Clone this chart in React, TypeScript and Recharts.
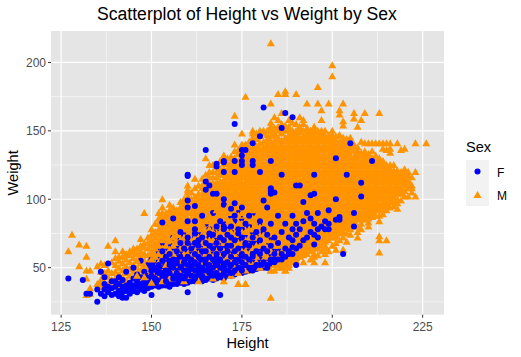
import React from "react";
import { ScatterChart, Scatter, XAxis, YAxis, CartesianGrid } from "recharts";

const xTicks = [125, 150, 175, 200, 225];
const yTicks = [50, 100, 150, 200];
const xMinor = [137.5, 162.5, 187.5, 212.5];
const yMinor = [25, 75, 125, 175];
const sexLabels = ["F", "M"];

// each row: height, then the weights read at that height
const maleEdge = [
[127,62],[128,74],[130,67,51],[132,66,58,48,42,30],[133,48,35,31],[135,51,38],[136,53,38],[137,52,46],[138,66],[140,70,62],[147,71],[148,90],
[153,100,90],[152,90],[154,90],[155,96,90],[160,107],[162,115],[164,110],[165,130],[166,125,120],[168,120,111],[170,132],[172,131],[173,140,161],[174,38],
[175,148,140],[176,175,38],[178,150,145],[180,150],[181,150],[183,214,170,156,48,28],[184,160],[185,177,158],[186,163],[187,179,177,154,48],[188,158],[189,156,58],
[190,177,57],[191,160],[192,155,54],[193,170,152],[195,150,60,54],[196,182,170,59],[197,165,158],[198,150,66,64,54],[199,170],[200,198,190,150],[201,72,63],
[202,165,162,147],[203,170,157,154,142,72,63],[204,144,69],[205,145,74],[206,163,159,140],[207,153,138,72],[208,158,142,78],[209,163,141],[210,141,83],[211,141,135,90],
[212,141],[213,163,141,130,92,73,70,61],[214,141,137],[215,141,136,125,92,70],[216,141,137,134],[217,121,102,95],[218,141,121,93],[219,136,115,105],[220,137,118],
[221,120,114,102],[223,141,120,102],[226,141],
];
const maleFringe = [
[176,140,136,134],[177,142,138],[178,148],[179,144,148],[180,146],[181,148],[182,150,147],[183,150,153],[184,152,148],[185,153],[186,155,150,152],[187,152],[188,153,150],[189,148],[190,155,150],[191,153,152],[192,150,158],[193,151],[194,150,148],[195,148,153],[196,150],[197,150,148],[198,146],[199,147,144],[200,145,147],[201,146,143],[202,142],[203,140,145],[204,140],[205,139],[206,137],[207,135],[208,134],[209,135,132],[210,133,130],[211,130],[212,132,128],[213,127],[214,125,128],[215,123],[216,122,125],[217,119,125],[218,119],[219,120],[220,116,122],[221,117],[222,116,110],
[222,105,108],[220,102],[219,99,104],[218,100,97],[217,98],[216,94],[215,95],[214,92,89],[213,88,84],[212,88],[211,87],[210,86,80],[209,85],[208,82],[207,80,76],[206,80],[205,78],[204,79,75],[203,76],[202,75,70],[201,74,68],[200,72,66],[199,70,62],[198,69,60],[197,66,62],[196,64],[195,64,58],[194,62,56],[193,60],[192,59],[191,58],[190,55],[189,54],[188,52,50],[187,52],[186,50],[185,50],[184,48],
[175,134,138],[174,136],[173,130,135],[172,127,122],[171,126,130],[170,126],[169,122,128],[168,124],[167,116,120,125],[166,116],[165,112,118],[164,108,115],[163,104,110],[162,102,108],[161,100,105],[160,105,110],[159,96,100],[158,94,98],[157,92],[156,90,94],[155,92],[154,88],[153,88,94],[152,86],[151,76,82],[150,78],[149,68,72],[148,68],[147,66],[146,64],[145,64],[144,62],[143,60],[142,62],[141,58],
];
const maleLow = [
[136,36,41,47],[137,34,39,44],[138,38,43,48],[139,36,41,46,54],[140,37,42,47,52,57],[141,35,40,45,50,55],[142,38,43,48,53,58],[143,36,41,46,51,56],[144,39,44,49,54,59],
[145,37,42,47,52,57,61],[146,40,45,50,55,60],[147,38,43,48,53,58,62],[148,40,45,50,55,60,65],[149,38,44,49,54,59,64],
[150,42,46,50,54,58,62,66,70,74],[151,44,48,52,56,60,64,68,72],[152,42,46,50,54,58,62,66,70,74,78,82],[153,44,48,52,56,60,64,68,72,76,80,84],
[154,42,46,50,54,58,62,66,70,74,78,82,86],[155,44,48,52,56,60,64,68,72,76,80,84,88],[156,46,50,54,58,62,66,70,74,78,82,86],[157,44,48,52,56,60,64,68,72,76,80,84,88],
[158,46,50,54,58,62,66,70,74,78,82,86,90],[159,44,48,52,56,60,64,68,72,76,80,84,88,92],[160,46,50,54,58,62,66,70,74,78,82,86,90,94,98,102],
];
const maleMid = [
[161,48,52,56,60,63,66,70,73,76,80,83,86,90,93,96],
[162,46,50,54,58,61,64,68,71,74,78,81,84,88,91,94,98],
[163,48,52,56,60,63,66,70,73,76,80,83,86,90,93,96,100],
[164,46,50,54,58,61,64,68,71,74,78,81,84,88,91,94,98,101,104],
[165,48,52,56,60,63,66,70,73,76,80,83,86,90,93,96,100,103,106,108],
[166,46,50,54,58,61,64,68,71,74,78,81,84,88,91,94,98,101,104,108,112],
[167,48,52,56,60,63,66,70,73,76,80,83,86,90,93,96,100,103,106,109,112],
[168,46,50,54,58,61,64,68,71,74,78,81,84,88,91,94,98,101,104,108,112,116],
[169,48,52,56,60,63,66,70,73,76,80,83,86,90,93,96,100,103,106,109,113,118],
[170,46,50,54,58,61,64,68,71,74,78,81,84,88,91,94,98,101,104,108,111,114,118,122],
[171,48,52,56,60,63,66,70,73,76,80,83,86,90,93,96,100,103,106,109,112,116,119,122],
[172,46,50,54,58,61,64,68,71,74,78,81,84,88,91,94,98,101,104,108,111,114,118,121,124],
[173,48,52,56,60,63,66,70,73,76,80,83,86,90,93,96,100,103,106,109,112,116,119,122,126],
[174,46,50,54,58,61,64,68,71,74,78,81,84,88,91,94,98,101,104,108,111,114,118,121,124,128,133],
[175,48,52,56,60,63,66,70,73,76,80,83,86,90,93,96,100,103,106,109,112,116,119,122,126,130],
];
const maleCore = [
[176,50,53,56,59,62,65,68,71,74,77,80,83,86,89,92,95,98,101,104,107,110,113,116,119,122,125,128,131],
[177,48,52,54,58,60,64,66,70,72,76,78,82,84,88,90,94,96,100,102,106,108,112,114,118,120,124,126,130,134],
[178,50,53,56,59,62,65,68,71,74,77,80,83,86,89,92,95,98,101,104,107,110,113,116,119,122,125,128,131,134,137],
[179,52,54,58,60,64,66,70,72,76,78,82,84,88,90,94,96,100,102,106,108,112,114,118,120,124,126,130,132,136,139],
[180,50,53,56,59,62,65,68,71,74,77,80,83,86,89,92,95,98,101,104,107,110,113,116,119,122,125,128,131,134,137,141],
[181,52,54,58,60,64,66,70,72,76,78,82,84,88,90,94,96,100,102,106,108,112,114,118,120,124,126,130,132,136,138,142],
[182,51,53,56,59,62,65,68,71,74,77,80,83,86,89,92,95,98,101,104,107,110,113,116,119,122,125,128,131,134,137,140,144],
[183,52,54,58,60,64,66,70,72,76,78,82,84,88,90,94,96,100,102,106,108,112,114,118,120,124,126,130,132,136,138,142,146],
[184,53,56,59,62,65,68,71,74,77,80,83,86,89,92,95,98,101,104,107,110,113,116,119,122,125,128,131,134,137,140,143,147],
[185,54,58,60,64,66,70,72,76,78,82,84,88,90,94,96,100,102,106,108,112,114,118,120,124,126,130,132,136,138,142,145,150],
[186,53,56,59,62,65,68,71,74,77,80,83,86,89,92,95,98,101,104,107,110,113,116,119,122,125,128,131,134,137,140,143,148],
[187,55,58,60,64,66,70,72,76,78,82,84,88,90,94,96,100,102,106,108,112,114,118,120,124,126,130,132,136,138,142,145,150],
[188,56,59,62,65,68,71,74,77,80,83,86,89,92,95,98,101,104,107,110,113,116,119,122,125,128,131,134,137,140,143,147],
[189,58,60,64,66,70,72,76,78,82,84,88,90,94,96,100,102,106,108,112,114,118,120,124,126,130,132,136,138,142,145,150],
[190,60,62,65,68,71,74,77,80,83,86,89,92,95,98,101,104,107,110,113,116,119,122,125,128,131,134,137,140,143,147],
[191,61,64,66,70,72,76,78,82,84,88,90,94,96,100,102,106,108,112,114,118,120,124,126,130,132,136,138,142,145,149],
[192,62,65,68,71,74,77,80,83,86,89,92,95,98,101,104,107,110,113,116,119,122,125,128,131,134,137,140,143,146],
[193,64,66,70,72,76,78,82,84,88,90,94,96,100,102,106,108,112,114,118,120,124,126,130,132,136,138,142,145,148],
[194,66,68,71,74,77,80,83,86,89,92,95,98,101,104,107,110,113,116,119,122,125,128,131,134,137,140,143,146],
[195,67,70,72,76,78,82,84,88,90,94,96,100,102,106,108,112,114,118,120,124,126,130,132,136,138,142,145],
[196,68,71,74,77,80,83,86,89,92,95,98,101,104,107,110,113,116,119,122,125,128,131,134,137,140,143,147],
[197,70,72,76,78,82,84,88,90,94,96,100,102,106,108,112,114,118,120,124,126,130,132,136,138,142,145],
[198,71,74,77,80,83,86,89,92,95,98,101,104,107,110,113,116,119,122,125,128,131,134,137,140,143],
[199,73,76,78,82,84,88,90,94,96,100,102,106,108,112,114,118,120,124,126,130,132,136,138,142],
[200,75,77,80,83,86,89,92,95,98,101,104,107,110,113,116,119,122,125,128,131,134,137,140,144],
[201,76,78,82,84,88,90,94,96,100,102,106,108,112,114,118,120,124,126,130,132,136,138,141],
[202,77,80,83,86,89,92,95,98,101,104,107,110,113,116,119,122,125,128,131,134,137,140],
[203,79,82,84,88,90,94,96,100,102,106,108,112,114,118,120,124,126,130,132,136,138],
[204,81,83,86,89,92,95,98,101,104,107,110,113,116,119,122,125,128,131,134,137],
[205,82,84,88,90,94,96,100,102,106,108,112,114,118,120,124,126,130,132,136],
[206,84,86,89,92,95,98,101,104,107,110,113,116,119,122,125,128,131,135],
[207,85,88,90,94,96,100,102,106,108,112,114,118,120,124,126,130,133],
[208,86,89,92,95,98,101,104,107,110,113,116,119,122,125,128,132],
[209,88,90,94,96,100,102,106,108,112,114,118,120,124,126,130],
[210,89,92,95,98,101,104,107,110,113,116,119,122,125,128],
[211,91,94,96,100,102,106,108,112,114,118,120,124,127],
[212,92,95,98,101,104,107,110,113,116,119,122,125],
[213,94,96,100,102,106,108,112,114,118,120,124],
[214,95,98,101,104,107,110,113,116,119,122],
[215,97,100,102,106,108,112,114,118,121],
[216,98,101,104,107,110,113,116,119],
[217,100,102,106,108,112,114,117],
[218,104,107,110,113,116],
[219,108,112,116],
[220,106,110,113],
[221,108,112],
];
const femaleBand = [
[136,31,47],[137,29,34,38,43],[138,32,36,53],[139,30,35,40],[140,31,36,40],[141,29,33,38,43],[142,28,32,36,41],[143,28,33,37,47],[144,31,35,39],
[145,33,37,42,50],[146,32,36,40,45],[147,34,38,43,55],[148,33,37,41,47],[149,35,39,44,52],[150,36,40,45,50,56],[151,37,41,46,52],[152,36,40,44,49,55,62],
[153,37,41,46,51,58,68],[154,37,42,47,52,60],[155,36,40,44,49,54,65],[156,38,42,46,51,56,62,72],[157,38,42,47,52,57,66],[158,39,43,48,53,58,64,70],
[159,38,42,46,51,56,61,74],[160,39,44,49,54,59,64,70],[161,40,45,50,55,60,66],[162,40,44,49,54,59,64,72],[163,41,46,51,56,62,68,76],
[164,40,45,50,55,60,66,74,88],[165,41,46,51,57,63,70,82],[166,42,47,52,58,64,72,78],[167,41,46,51,56,62,68,76,90],[168,42,47,53,59,66,74],
[169,43,48,54,60,68,78],[170,42,47,52,58,64,72,82,96],[171,44,49,55,62,70,80],[172,44,48,54,60,67,76,88],[173,45,50,56,64,72,84],
[174,46,51,58,66,74,90],[175,46,52,60,68,78,86],[176,47,54,62,72,82],[177,48,53,60,70,80],[178,48,56,66,76,90],[179,49,55,64,72],[180,50,58,68,80],
[181,50,54,62,76],[182,50,56,66],[183,52,58,70],[184,54,62],[185,54,60],
];
const femaleMid = [
[150,42,47,53],[152,46,52,58],[154,39,44,49,55,63],[155,46,52,58],[156,44,48,54,59,66],[157,44,49,54,60],[158,41,45,50,56,61],[159,40,44,48,53,59,66],[160,41,46,52,57,62,68],[161,42,47,52,57,63,70],[162,42,47,52,57,62,68],[163,43,48,53,59,65,72],[164,42,47,52,58,63,70],[165,43,48,54,60,66],[166,44,50,55,61,68],[167,43,48,54,59,65,72],[168,44,50,56,62,70],[169,45,51,57,64,72],[170,44,50,55,61,68],[171,46,52,58,66],[172,46,51,57,64,72],[173,47,53,60,68],[174,48,54,62,70],[175,49,56,64,72],[176,50,58,66],[177,50,56,64],[178,52,60,70],[179,52,60,68],[180,54,62],[181,58,66],[182,54,60],[183,55,64],[184,58,68],[185,57,64],
];
const femaleSpots = [
[127,42],[131,41],[132,31],[133,31],[135,25,34],[150,30],[160,32],[169,30],
[153,83,62],[155,55],[156,86],[157,55],[158,76],[160,84,68],[162,84,78,75],[163,66],[165,56],[166,75],[168,80,57],[170,80],[171,66],[172,72],[174,75],[176,67],[178,60],
[160,118,117,99,94],[162,95],[165,136,113,107],[166,110],[167,104],[168,126,124,104],[170,128,127,120,100],[172,93],[173,155,128,120,97],[175,136,132,128,125],
[176,136],[178,141,128,125],[180,146,120],[181,167,99],[182,50],[183,128,108,106,104,54],[184,105],[186,152,118,56],[187,163],[188,60],[189,160,78,65],[190,110,74,52],[191,110],[194,103],[195,118,104,67],
[196,72],[198,78],[199,78],[201,130,100,85],[202,87,85],[203,60],[204,118],[205,141],[206,90,80],[208,112,102],[211,128],
];
const femaleCluster = [
[150,44,48],[151,42,50],[152,46,52],[153,44,55],[154,40,48,58],[155,46,52,60],[156,42,50,56],[157,46,53,62],[158,44,50,58,68],[159,42,48,54,64],[160,46,52,58,72],[161,44,50,56,64],[162,42,48,54,60,68],[163,46,52,58,70],[164,44,50,56,62,72],[165,42,48,53,62,68],[166,46,52,58,66],[167,44,50,56,64,74],[168,46,52,60,68],[169,44,50,56,64,72,84],[170,46,53,60,70,78],[171,48,54,62,74],[172,46,52,58,66,80],[173,48,54,62,70,88],[174,50,56,64,78],[175,48,54,60,72,94],[176,52,58,68,82],[177,50,56,66,88],[178,50,58,72],[179,52,62,76],[180,52,60,70,84],[181,54,64,78],[182,52,62,74,94],[183,56,66,82],[184,54,60,72],[185,56,68,88],[186,60,76],[187,58,64,82],[188,62,72],[189,60,70,88],[190,64,82],[191,66,78],[192,70,84,98],[193,72,90],[194,76,86],[195,74,82],[196,78,90],[197,80],[198,84],[199,82,92],
];
const maleTop = [
[146,44,55],[148,43,52],[150,39,47,56,60],[151,58,64],[152,45,54,60,66],[153,40,58,64,70],[154,52,60,66,72],[155,42,58,63,70,76],[156,48,60,66,72,78],[157,52,62,68,74],[158,48,55,64,70,80],[159,40,60,66,72,78],[160,52,60,66,74,78],[161,44,58,64,70,76,82],[162,48,56,62,68,72,80],[163,40,60,66,72,78,84],[164,52,62,68,74,82],[165,46,60,66,70,76,84],[166,54,60,64,70,78,88],[167,42,58,64,70,76,84],[168,50,62,68,74,84,92],[169,46,58,64,70,76,80,86],[170,40,54,62,68,74,86,90],[171,48,58,62,70,76,82,94],[172,44,56,64,68,76,84,90],[173,50,60,66,74,80,90],[174,38,46,56,62,68,74,82,88],[175,54,62,68,76,82,90],[176,38,48,56,62,70,76,84,88],[177,52,60,66,72,78,84,92],[178,52,58,64,72,78,86,92],[179,54,58,66,72,80,86],[180,50,60,66,72,80,86,94],[181,56,60,68,74,80,88],[182,52,58,64,70,76,84],[183,48,56,62,68,76,82,92],[184,52,60,66,70,76,82],[185,52,60,66,72,78,84],[186,54,60,68,74,80],[187,48,56,64,68,76],[188,54,60,64,70,76],[189,56,62,68,74],[190,58,64,70,76],[191,60,66,72],[192,62,70,76],[193,64,72,78],[194,66,74,80],[195,72,80],[196,74,82],[197,78],
];

const expand = (rows: number[][]) => rows.flatMap(([h, ...ws]) => ws.map((w) => ({ h, w })));
const maleBack = expand([...maleEdge, ...maleFringe, ...maleLow, ...maleMid, ...maleCore]);
const femaleBack = expand([...femaleBand, ...femaleMid]);
const maleFront = expand(maleTop);
const femaleFront = expand([...femaleSpots, ...femaleCluster]);

const BLUE = "#0000ff";
const ORANGE = "#ff9400";

const Dot = (p: any) => <circle cx={p.cx} cy={p.cy} r={3} fill={BLUE} />;
const Tri = (p: any) => (
  <polygon points={`${p.cx},${p.cy - 4} ${p.cx - 4},${p.cy + 3} ${p.cx + 4},${p.cy + 3}`} fill={ORANGE} />
);

const font = "'Liberation Sans', Arial, sans-serif";

export default function App() {
  return (
    <div style={{ position: "absolute", left: 0, top: 0, width: 521, height: 357, background: "#fff", fontFamily: font }}>
      <div style={{ position: "absolute", left: 97, top: 3, fontSize: 17.6, lineHeight: "22px", color: "#000", whiteSpace: "nowrap" }}>
        Scatterplot of Height vs Weight by Sex
      </div>
      <ScatterChart width={521} height={357} margin={{ top: 31, right: 77, bottom: 0, left: 0 }} style={{ fontFamily: font }}>
        <CartesianGrid fill="#e5e5e5" stroke="#ffffff" strokeWidth={0.55} verticalValues={xMinor} horizontalValues={yMinor} />
        <CartesianGrid stroke="#ffffff" strokeWidth={1.2} verticalValues={xTicks} horizontalValues={yTicks} />
        <XAxis
          type="number" dataKey="h" domain={[122.2, 230.9]} ticks={xTicks} height={42.3} axisLine={false} interval={0}
          tickSize={3} tickLine={{ stroke: "#333333" }} tick={{ fill: "#4d4d4d", fontSize: 12 }} tickMargin={5}
          label={{ value: "Height", position: "insideBottom", offset: 9, fill: "#000", fontSize: 14.6 }}
        />
        <YAxis
          type="number" dataKey="w" domain={[15.6, 223]} ticks={yTicks} width={51} axisLine={false} interval={0}
          tickSize={3} tickLine={{ stroke: "#333333" }} tick={{ fill: "#4d4d4d", fontSize: 12 }} tickMargin={2}
          label={{ value: "Weight", angle: -90, position: "insideLeft", offset: 13, fill: "#000", fontSize: 14.6, style: { textAnchor: "middle" } }}
        />
        <Scatter name="M" data={maleBack} shape={Tri} isAnimationActive={false} />
        <Scatter name="F" data={femaleBack} shape={Dot} isAnimationActive={false} />
        <Scatter name="M front" data={maleFront} shape={Tri} isAnimationActive={false} />
        <Scatter name="F front" data={femaleFront} shape={Dot} isAnimationActive={false} />
      </ScatterChart>
      <div style={{ position: "absolute", left: 466, top: 138, fontSize: 14.6, lineHeight: "18px", color: "#000" }}>Sex</div>
      {sexLabels.map((s, i) => (
        <React.Fragment key={s}>
          <svg width={23} height={23} style={{ position: "absolute", left: 466, top: 160 + i * 23, background: "#f2f2f2" }}>
            {s === "F" ? <Dot cx={11.5} cy={11.5} /> : <Tri cx={11.5} cy={12} />}
          </svg>
          <div style={{ position: "absolute", left: 497, top: 166 + i * 23, fontSize: 12, lineHeight: "14px", color: "#000" }}>{s}</div>
        </React.Fragment>
      ))}
    </div>
  );
}
